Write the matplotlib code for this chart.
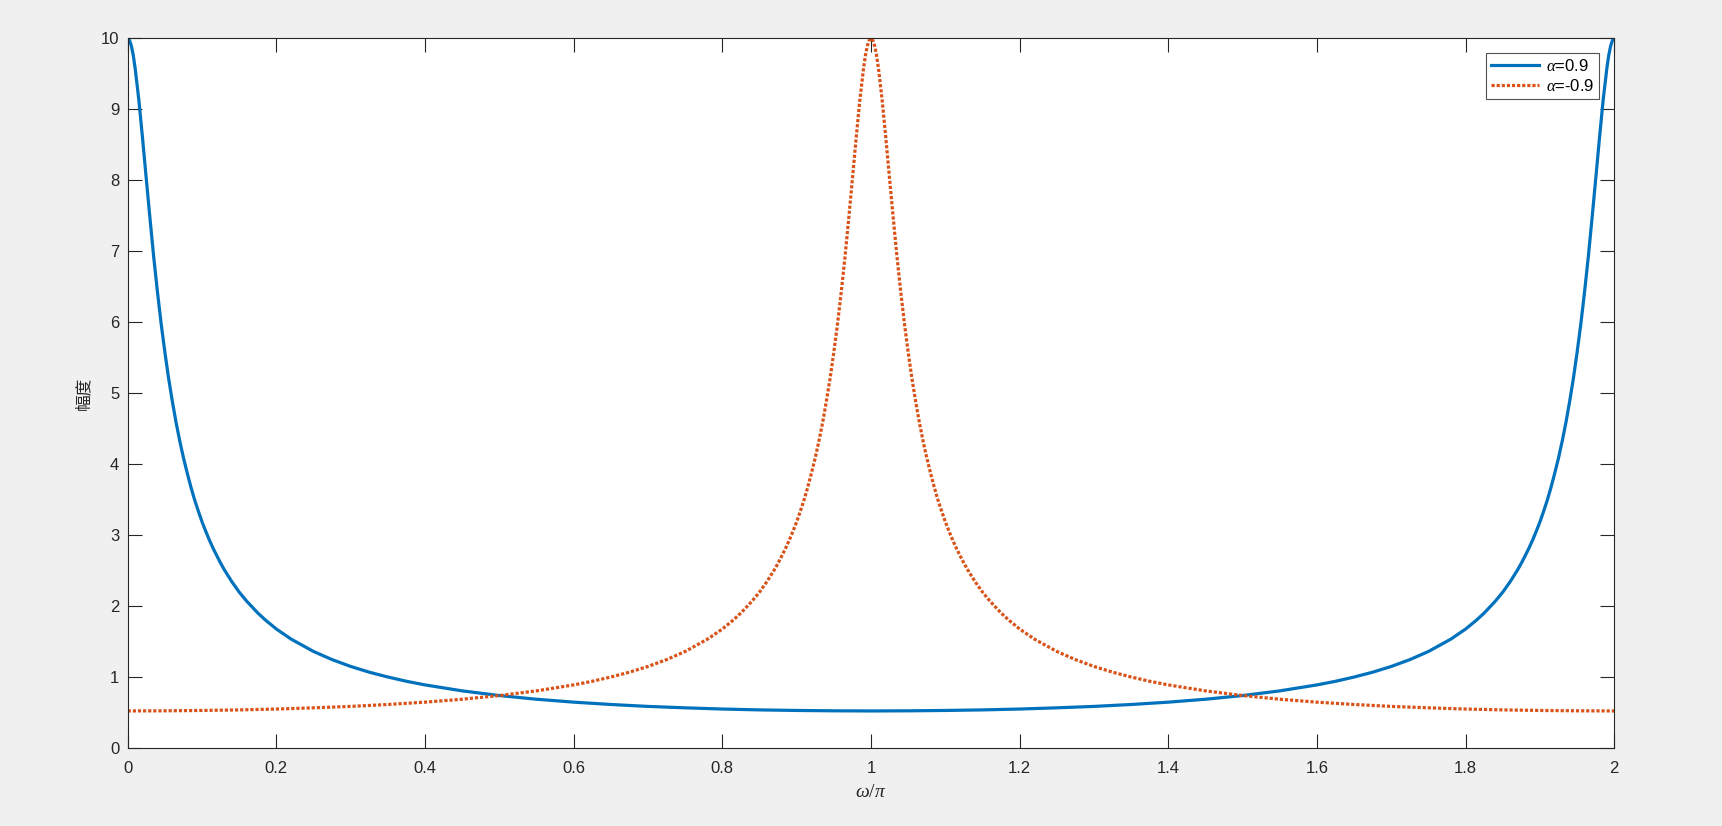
import matplotlib
matplotlib.use('Agg')
import matplotlib.pyplot as plt

# values (magnitude vs omega/pi)
omega_pos = [0, 0.0025, 0.005, 0.0075, 0.01, 0.015, 0.02, 0.025, 0.03, 0.035, 0.04, 0.045, 0.05, 0.055,
             0.06, 0.065, 0.07, 0.075, 0.08, 0.085, 0.09, 0.095, 0.10, 0.105, 0.11, 0.115, 0.12, 0.125,
             0.13, 0.14, 0.15, 0.16, 0.175, 0.185, 0.2, 0.22, 0.25, 0.275, 0.3, 0.325, 0.35, 0.375, 0.4,
             0.45, 0.5, 0.55, 0.6, 0.65, 0.7, 0.75, 0.8, 0.85, 0.9, 0.95, 1.0,
             1.05, 1.1, 1.15, 1.2, 1.25, 1.3, 1.35, 1.4, 1.45, 1.5, 1.55, 1.6, 1.625, 1.65, 1.675, 1.7,
             1.725, 1.75, 1.78, 1.8, 1.815, 1.825, 1.84, 1.85, 1.86, 1.87, 1.875, 1.88, 1.885, 1.89,
             1.895, 1.90, 1.905, 1.91, 1.915, 1.92, 1.925, 1.93, 1.935, 1.94, 1.945, 1.95, 1.955, 1.96,
             1.965, 1.97, 1.975, 1.98, 1.985, 1.99, 1.9925, 1.995, 1.9975, 2.0]
mag_pos = [10, 9.972, 9.89, 9.759, 9.58, 9.13, 8.59, 8.02, 7.46, 6.92, 6.43, 5.98, 5.58, 5.213,
           4.89, 4.593, 4.33, 4.092, 3.88, 3.681, 3.50, 3.341, 3.19, 3.056, 2.93, 2.815, 2.71, 2.608,
           2.515, 2.348, 2.20, 2.073, 1.906, 1.809, 1.68, 1.537, 1.364, 1.249, 1.153, 1.072, 1.004, 0.944, 0.893,
           0.809, 0.743, 0.691, 0.650, 0.617, 0.590, 0.570, 0.553, 0.541, 0.533, 0.528, 0.526,
           0.528, 0.533, 0.541, 0.553, 0.570, 0.590, 0.617, 0.650, 0.691, 0.743, 0.809, 0.893, 0.944, 1.004, 1.072, 1.153,
           1.249, 1.364, 1.537, 1.68, 1.809, 1.906, 2.073, 2.20, 2.348, 2.515, 2.608, 2.71, 2.815, 2.93,
           3.056, 3.19, 3.341, 3.50, 3.681, 3.88, 4.092, 4.33, 4.593, 4.89, 5.213, 5.58, 5.98, 6.43,
           6.92, 7.46, 8.02, 8.59, 9.13, 9.58, 9.759, 9.89, 9.972, 10]

omega_neg = [0, 0.05, 0.1, 0.15, 0.2, 0.25, 0.3, 0.35, 0.4, 0.45, 0.5, 0.55, 0.6, 0.625, 0.65, 0.675,
             0.7, 0.725, 0.75, 0.78, 0.8, 0.815, 0.825, 0.84, 0.85, 0.86, 0.87, 0.875, 0.88, 0.885, 0.89,
             0.895, 0.90, 0.905, 0.91, 0.915, 0.92, 0.925, 0.93, 0.935, 0.94, 0.945, 0.95, 0.955, 0.96,
             0.965, 0.97, 0.975, 0.98, 0.985, 0.99, 0.9925, 0.995, 0.9975, 1.0,
             1.0025, 1.005, 1.0075, 1.01, 1.015, 1.02, 1.025, 1.03, 1.035, 1.04, 1.045, 1.05, 1.055,
             1.06, 1.065, 1.07, 1.075, 1.08, 1.085, 1.09, 1.095, 1.10, 1.105, 1.11, 1.115, 1.12, 1.125,
             1.13, 1.14, 1.15, 1.16, 1.175, 1.185, 1.2, 1.22, 1.25, 1.275, 1.3, 1.325, 1.35, 1.375, 1.4,
             1.45, 1.5, 1.55, 1.6, 1.65, 1.7, 1.75, 1.8, 1.85, 1.9, 1.95, 2.0]
mag_neg = [0.526, 0.528, 0.533, 0.541, 0.553, 0.570, 0.590, 0.617, 0.650, 0.691, 0.743, 0.809, 0.893, 0.944,
           1.004, 1.072, 1.153, 1.249, 1.364, 1.537, 1.68, 1.809, 1.906, 2.073, 2.20, 2.348, 2.515, 2.608,
           2.71, 2.815, 2.93, 3.056, 3.19, 3.341, 3.50, 3.681, 3.88, 4.092, 4.33, 4.593, 4.89, 5.213, 5.58,
           5.98, 6.43, 6.92, 7.46, 8.02, 8.59, 9.13, 9.58, 9.759, 9.89, 9.972, 10,
           9.972, 9.89, 9.759, 9.58, 9.13, 8.59, 8.02, 7.46, 6.92, 6.43, 5.98, 5.58, 5.213,
           4.89, 4.593, 4.33, 4.092, 3.88, 3.681, 3.50, 3.341, 3.19, 3.056, 2.93, 2.815, 2.71, 2.608,
           2.515, 2.348, 2.20, 2.073, 1.906, 1.809, 1.68, 1.537, 1.364, 1.249, 1.153, 1.072, 1.004, 0.944, 0.893,
           0.809, 0.743, 0.691, 0.650, 0.617, 0.590, 0.570, 0.553, 0.541, 0.533, 0.528, 0.526]

labels = [r'$\alpha$=0.9', r'$\alpha$=-0.9']
xticks = [0, 0.2, 0.4, 0.6, 0.8, 1, 1.2, 1.4, 1.6, 1.8, 2]
xticklabels = ['0', '0.2', '0.4', '0.6', '0.8', '1', '1.2', '1.4', '1.6', '1.8', '2']
yticks = list(range(0, 11))

plt.rcParams['font.family'] = ['Liberation Sans', 'Noto Sans CJK SC', 'DejaVu Sans']
plt.rcParams['mathtext.fontset'] = 'custom'
plt.rcParams['mathtext.it'] = 'Liberation Serif:italic'
plt.rcParams['mathtext.rm'] = 'Liberation Serif'

fig = plt.figure(figsize=(17.22, 8.26), dpi=100, facecolor='#f0f0f0')
ax = fig.add_axes([127.7 / 1722, (826 - 748.3) / 826, (1614.3 - 127.7) / 1722, (748.3 - 38.3) / 826])
ax.set_facecolor('white')

ax.plot(omega_pos, mag_pos, color='#0072BD', lw=2.3, label=labels[0])
ax.plot(omega_neg, mag_neg, color='#D95319', lw=2.3, linestyle=(0, (1.0, 0.6)), label=labels[1])

ax.set_xlim(0, 2)
ax.set_ylim(0, 10)
ax.set_xticks(xticks)
ax.set_xticklabels(xticklabels)
ax.set_yticks(yticks)
ax.tick_params(direction='in', length=10, width=0.8, top=True, right=True,
               labelsize=12, colors='#262626')
ax.tick_params(axis='x', pad=9)
ax.tick_params(axis='y', pad=6)
for s in ax.spines.values():
    s.set_color('#262626')
    s.set_linewidth(0.8)

ax.set_xlabel(r'$\omega/\pi$', fontsize=14, color='#262626', labelpad=6)
ax.set_ylabel('幅度', fontsize=12, color='#262626', family=['Noto Sans CJK SC'], labelpad=6)

leg = ax.legend(loc='upper right', fontsize=12, frameon=True, fancybox=False,
                handlelength=2.9, borderaxespad=0.9, borderpad=0.3, labelspacing=0.2,
                handletextpad=0.4)
leg.get_frame().set_edgecolor('#262626')
leg.get_frame().set_linewidth(0.8)

fig.savefig('out.png', dpi=100, facecolor=fig.get_facecolor())
